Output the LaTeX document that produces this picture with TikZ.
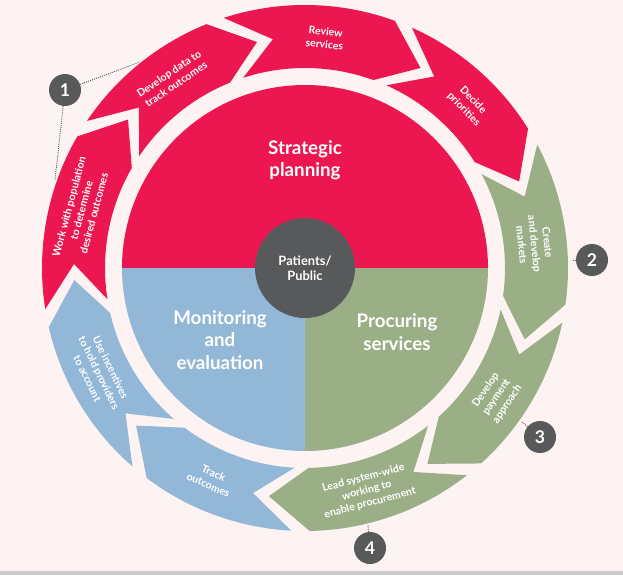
\documentclass[tikz,border=0pt]{standalone}
\usepackage{fontspec}
\setmainfont{Lato}
\definecolor{bg}{HTML}{FDF3F2}
\definecolor{rd}{HTML}{EC1651}
\definecolor{gr}{HTML}{9BAF86}
\definecolor{bl}{HTML}{93B7D7}
\definecolor{dk}{HTML}{58595B}
\newcommand\seg[4]{% start, end, color, name
  \fill[#3] (#1:263) arc[start angle=#1,end angle=#2,radius=263] -- (#2-10:231) -- (#2:200)
    arc[start angle=#2,end angle=#1,radius=200] -- (#1-10:231) -- cycle;
  \coordinate (#4) at ({(#1+#2)/2-4}:231);}
\begin{document}
\begin{tikzpicture}[x=0.03cm,y=0.03cm,
  atxt/.style={text=white,font=\bfseries\fontsize{9}{11}\selectfont,align=center},
  big/.style={text=white,font=\bfseries\fontsize{16}{19}\selectfont,align=center},
  num/.style={circle,fill=dk,minimum size=0.96cm,inner sep=0pt,text=white,font=\bfseries\fontsize{15}{15}\selectfont},
  dotl/.style={dk,densely dotted,line width=0.8pt}]
\fill[bg] (0,0) rectangle (623,575);
\useasboundingbox (0,0) rectangle (623,575);
\fill[gray!40] (0,0) rectangle (623,4);
\begin{scope}[shift={(305,307)}]
\fill[rd] (183,0) arc[start angle=0,end angle=180,radius=183] -- cycle;
\fill[bl] (0,0) -- (-183,0) arc[start angle=180,end angle=270,radius=183] -- cycle;
\fill[gr] (0,0) -- (0,-183) arc[start angle=270,end angle=360,radius=183] -- cycle;
\seg{189}{150}{rd}{s1}
\seg{146}{112}{rd}{s2}
\seg{108}{70}{rd}{s3}
\seg{66}{32}{rd}{s4}
\seg{28}{-8}{gr}{s5}
\seg{-12}{-48}{gr}{s6}
\seg{-52}{-89}{gr}{s7}
\seg{-93}{-127}{bl}{s8}
\seg{-131}{-167}{bl}{s9}
\node[atxt,rotate=75] (t1) at (s1) {Work with population\\to determine\\desired outcomes};
\node[atxt,rotate=34] (t2) at (s2) {Develop data to\\track outcomes};
\node[atxt,rotate=-6] (t3) at (s3) {Review\\services};
\node[atxt,rotate=-46] (t4) at (s4) {Decide\\priorities};
\node[atxt,rotate=-84] (t5) at (s5) {Create\\and develop\\markets};
\node[atxt,rotate=56] (t6) at (s6) {Develop\\payment\\approach};
\node[atxt,rotate=15] (t7) at (s7) {Lead system-wide\\working to\\enable procurement};
\node[atxt,rotate=-24] (t8) at (s8) {Track\\outcomes};
\node[atxt,rotate=-64] (t9) at (s9) {Use incentives\\to hold providers\\to account};
\node[circle,fill=dk,minimum size=3cm,inner sep=0pt] (c) at (0,0) {};
\node[text=white,font=\bfseries\fontsize{11}{13}\selectfont,align=center] (ct) at (0,0) {Patients/\\Public};
\node[big] (sp) at (0,108) {Strategic\\planning};
\node[big] (me) at (-85,-72) {Monitoring\\and\\evaluation};
\node[big] (ps) at (92,-64) {Procuring\\services};
\end{scope}
\node[num] (n1) at (65,485) {1};
\node[num] (n2) at (592,315) {2};
\node[num] (n3) at (540,138) {3};
\node[num] (n4) at (370,27) {4};
\coordinate (d1a) at (140,513);
\coordinate (d1b) at (55,395);
\coordinate (d2) at (572,315);
\coordinate (d3) at (522,153);
\coordinate (d4) at (368,50);
\draw[dotl] (n1) -- (d1a);
\draw[dotl] (n1) -- (d1b);
\draw[dotl] (n2) -- (d2);
\draw[dotl] (n3) -- (d3);
\draw[dotl] (n4) -- (d4);
\end{tikzpicture}
\end{document}
